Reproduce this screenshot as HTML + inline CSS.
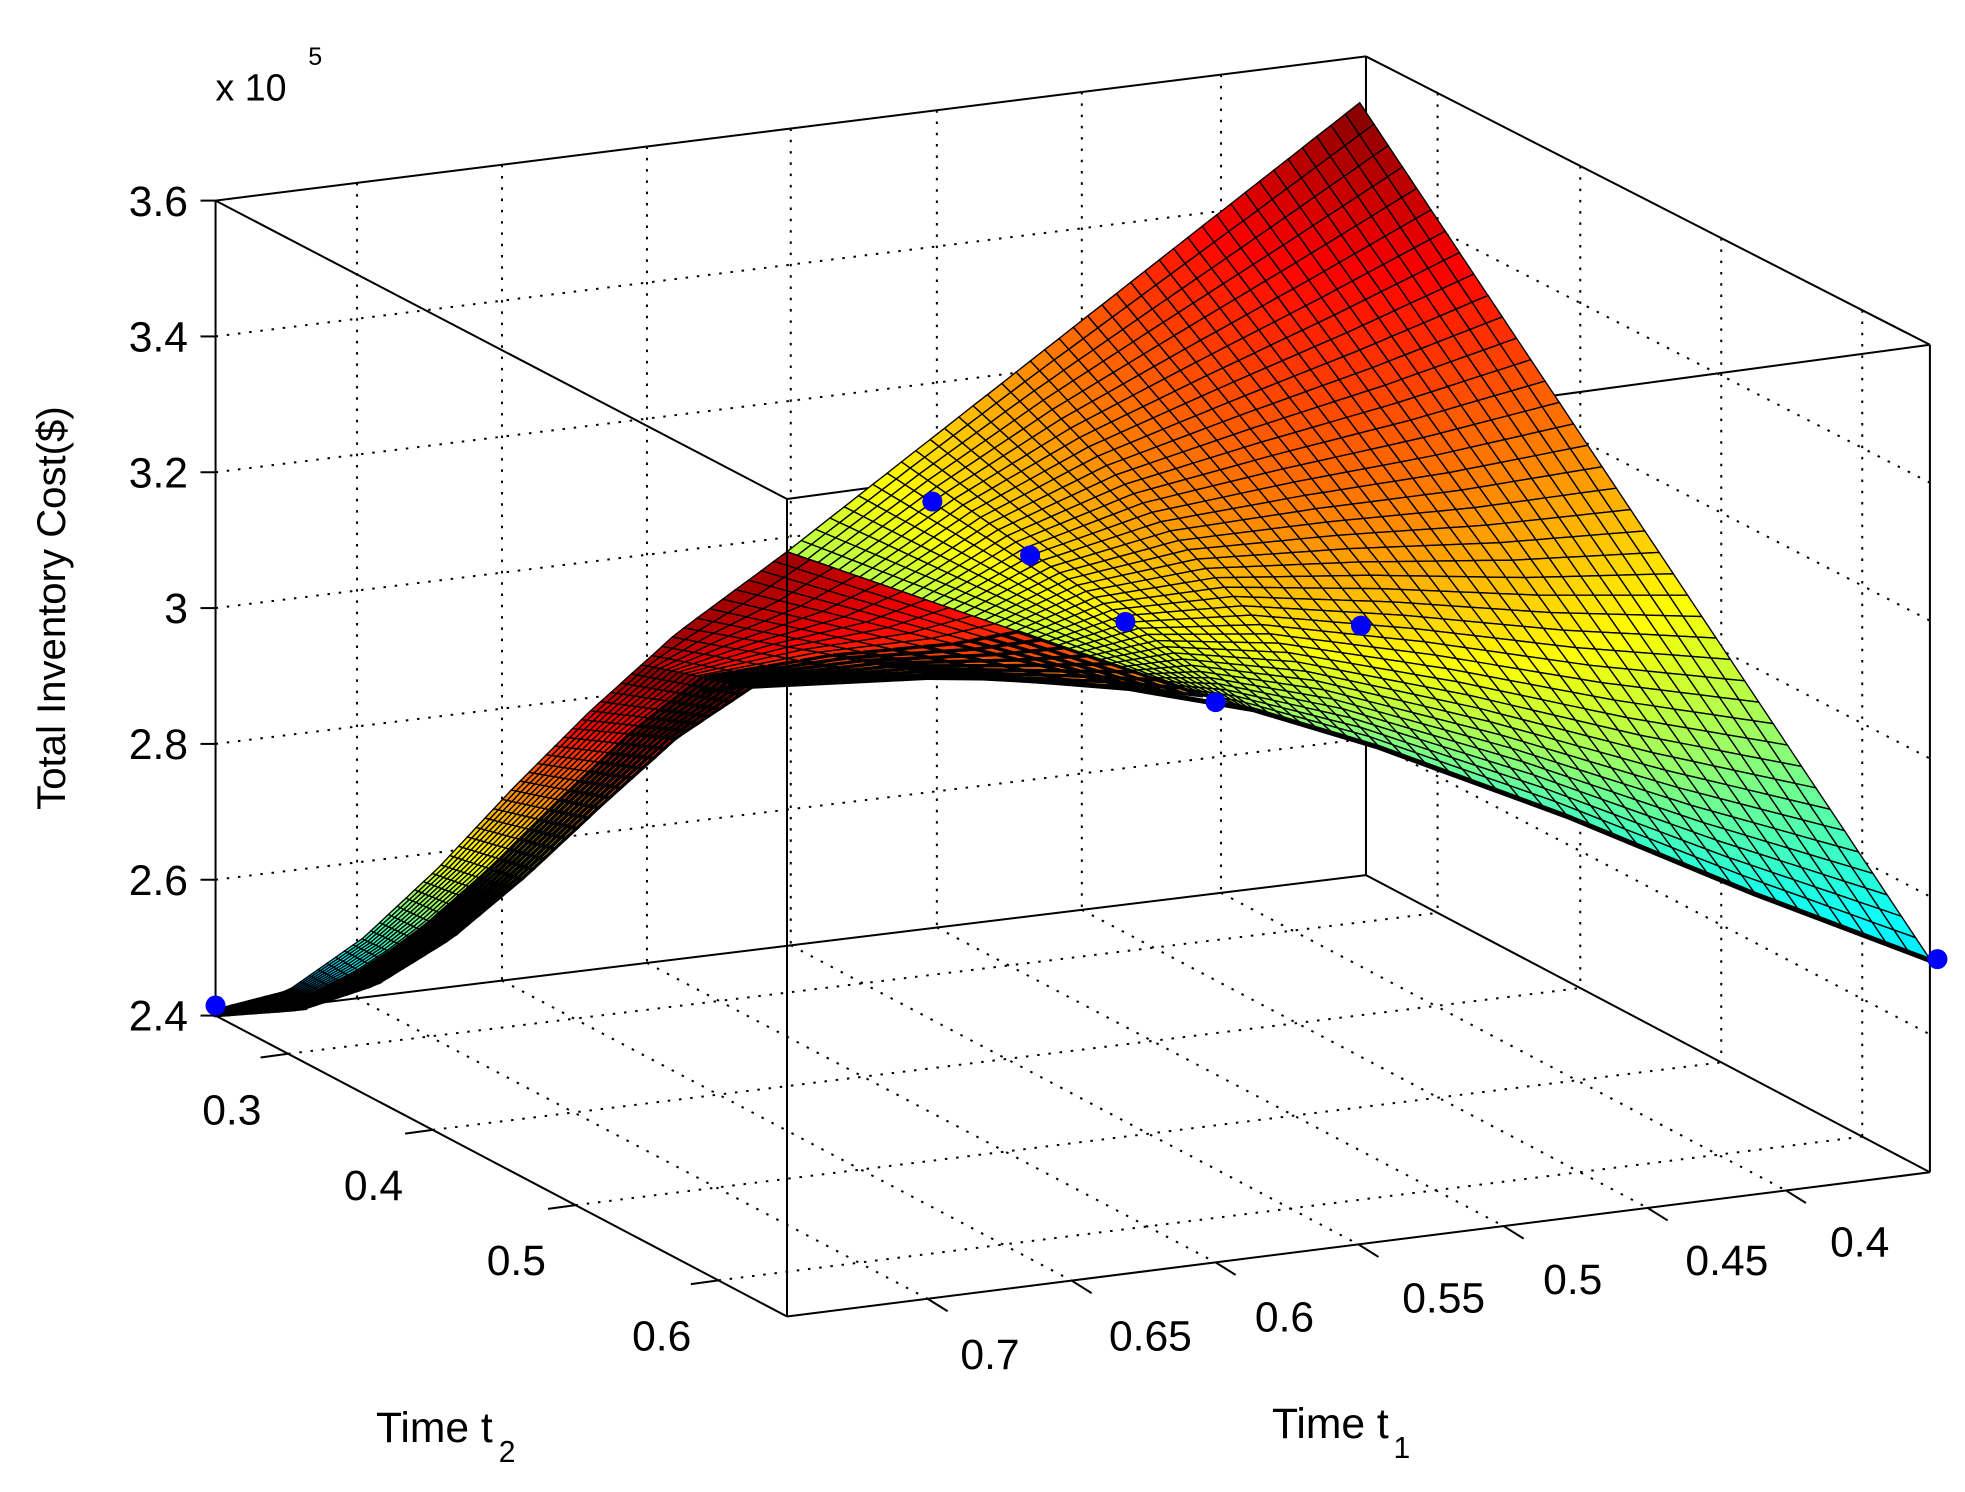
<!DOCTYPE html>
<html><head><meta charset="utf-8"><style>
html,body{margin:0;padding:0;background:#fff;}
svg{display:block;}
text{font-family:"Liberation Sans",sans-serif;fill:#000;}
</style></head><body>
<svg id="s" width="1965" height="1492" viewBox="0 0 1568 1190" preserveAspectRatio="none" xmlns="http://www.w3.org/2000/svg">
<g id="grid" stroke="#000" stroke-width="1.6" stroke-dasharray="2,7" fill="none"></g>
<g id="box" stroke="#000" stroke-width="1.6" fill="none"></g>
<g id="surf"></g>
<g id="front" stroke="#000" stroke-width="1.6" fill="none"></g>
<g id="labels" font-size="34"></g>
</svg>
<script>
const NS="http://www.w3.org/2000/svg";
function el(p,tag,a,txt){const e=document.createElementNS(NS,tag);for(const k in a)e.setAttribute(k,a[k]);if(txt!==undefined)e.textContent=txt;document.getElementById(p).appendChild(e);return e;}
function line(p,a,b){el(p,'line',{x1:a[0],y1:a[1],x2:b[0],y2:b[1]});}
function lerp(a,b,t){return [a[0]+(b[0]-a[0])*t,a[1]+(b[1]-a[1])*t];}
const A=[172,160],B=[1090,45],C=[1540,275],D=[628,398];
const A2=[172,810],B2=[1090,698],C2=[1540,935],D2=[628,1050];
line('box',A,B);line('box',B,C);line('box',A,A2);line('box',B,B2);line('box',C,C2);
line('box',A2,B2);line('box',B2,C2);line('box',A,D);line('box',D,C);
const zs=[0,1,2,3,4,5,6];
const f1=[0.123,0.249,0.375,0.5,0.627,0.753,0.874];
const f2=[0.127,0.38,0.63,0.88];
zs.forEach(k=>{const t=k/6;const pa=lerp(A,A2,t),pb=lerp(B,B2,t),pc=lerp(C,C2,t);if(k>0&&k<6){line('grid',pa,pb);line('grid',pb,pc);}
 line('box',pa,[pa[0]-12,pa[1]]);});
f1.forEach(f=>{line('grid',lerp(A,B,f),lerp(A2,B2,f));line('grid',lerp(A2,B2,f),lerp(D2,C2,f));
 const p=lerp(D2,C2,f);line('box',p,[p[0]+16,p[1]+10]);});
f2.forEach(f=>{line('grid',lerp(B,C,f),lerp(B2,C2,f));line('grid',lerp(A2,D2,f),lerp(B2,C2,f));
 const p=lerp(A2,D2,f);line('box',p,[p[0]-22,p[1]+3]);});
function jet(x){x=Math.max(0,Math.min(1,x));const c=v=>Math.round(255*Math.max(0,Math.min(1,v)));return `rgb(${c(1.5-Math.abs(4*x-3))},${c(1.5-Math.abs(4*x-2))},${c(1.5-Math.abs(4*x-1))})`;}
function poly(pts,t){const n=pts.length-1;let s=t*n;let i=Math.min(n-1,Math.floor(s));return lerp(pts[i],pts[i+1],s-i);}
const F=[628,440],Bk=[1085,82],R=[1540,765],G=[960,555];
const fold=[G,[1000,565],[1100,595],[1250,650],[1400,712],R];
function PB(s,t){const top=lerp(F,Bk,s);const bc=poly(fold,s);return lerp(top,bc,t);}
function VB(s,t){const v=(1-s)*(1-t)*0.55+s*(1-t)*1.0+s*t*0.35+(1-s)*t*0.58;return v+0.1*Math.sin(Math.PI*s)*Math.sin(Math.PI*t);}
const N=40;let html='';
for(let i=0;i<N;i++)for(let j=0;j<N;j++){const s0=i/N,s1=(i+1)/N,t0=j/N,t1=(j+1)/N;
 const p=[PB(s0,t0),PB(s1,t0),PB(s1,t1),PB(s0,t1)];
 html+=`<polygon points="${p.map(q=>q[0].toFixed(1)+','+q[1].toFixed(1)).join(' ')}" fill="${jet(VB((s0+s1)/2,(t0+t1)/2))}" stroke="#000" stroke-width="1.1"/>`;}
const topW=[[172,805],[230,790],[290,748],[350,692],[410,628],[470,568],[540,505],[628,440]];
const botW8=[[172,810],[240,805],[300,785],[360,748],[420,698],[480,642],[540,588],[600,548]];
const botR=[[600,548],[760,540],[900,548],[960,555]];
function PA(u,v){const t=poly(topW,u);let b;if(u<0.8){b=poly(botW8,u/0.8);}else{b=poly(botR,(u-0.8)/0.2);}return lerp(t,b,v);}
const NU=60,NV=18;
for(let i=0;i<NU;i++)for(let j=0;j<NV;j++){const u0=i/NU,u1=(i+1)/NU,v0=j/NV,v1=(j+1)/NV;
 const p=[PA(u0,v0),PA(u1,v0),PA(u1,v1),PA(u0,v1)];
 const u=(u0+u1)/2,v=(v0+v1)/2;let val=0.05+0.95*Math.pow(u/0.8,0.9);if(u>0.8)val=0.97-0.25*v;
 html+=`<polygon points="${p.map(q=>q[0].toFixed(1)+','+q[1].toFixed(1)).join(' ')}" fill="${jet(val)}" stroke="#000" stroke-width="${(0.5+ (v>0.55?2.2:0.6)).toFixed(2)}"/>`;}
html+=`<polyline points="560,552 600,546 700,540 800,541 900,549 1000,566 1100,596 1250,651 1400,713 1540,766" fill="none" stroke="#000" stroke-width="4"/>`;
[[172,802],[744,400],[822,443],[898,496],[1086,499],[970,560],[1546,765]].forEach(m=>{html+=`<circle cx="${m[0]}" cy="${m[1]}" r="8" fill="#0000ff"/>`;});
document.getElementById('surf').innerHTML=html;
line('front',A2,D2);line('front',D2,C2);line('front',D,D2);
const zl=['2.4','2.6','2.8','3','3.2','3.4','3.6'];
zl.forEach((l,k)=>{const y=810-k*108.3;el('labels','text',{x:150,y:y+12,'text-anchor':'end'},l);});
[['0.3',185,897],['0.4',298,957],['0.5',412,1017],['0.6',528,1077]].forEach(a=>el('labels','text',{x:a[1],y:a[2],'text-anchor':'middle'},a[0]));
[['0.7',790,1092],['0.65',918,1077],['0.6',1025,1062],['0.55',1152,1047],['0.5',1255,1032],['0.45',1378,1017],['0.4',1484,1002]].forEach(a=>el('labels','text',{x:a[1],y:a[2],'text-anchor':'middle'},a[0]));
el('labels','text',{x:300,y:1150},'Time t');el('labels','text',{x:398,y:1166,'font-size':'24'},'2');
el('labels','text',{x:1015,y:1147},'Time t');el('labels','text',{x:1112,y:1163,'font-size':'24'},'1');
el('labels','text',{x:0,y:0,transform:'translate(52,485) rotate(-90)','text-anchor':'middle','font-size':'32'},'Total Inventory Cost($)');
el('labels','text',{x:172,y:80,'font-size':'30'},'x 10');el('labels','text',{x:246,y:52,'font-size':'20'},'5');
</script>
</body></html>
